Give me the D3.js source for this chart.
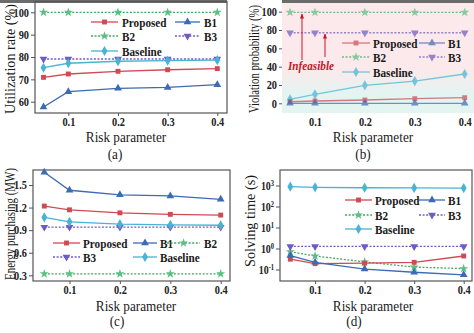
<!DOCTYPE html>
<html>
<head>
<meta charset="utf-8">
<script src="https://cdn.jsdelivr.net/npm/d3@7"></script>
<style>
  body { margin: 0; background: #fff; }
  svg { display: block; font-family: "Liberation Serif", "Times New Roman", serif; }
</style>
</head>
<body>
<div id="chart"></div>
<script>
const risk = [0.05, 0.1, 0.2, 0.3, 0.4];
const riskTicks = [0.1, 0.2, 0.3, 0.4];
const seriesNames = ["Proposed", "B1", "B2", "B3", "Baseline"];

// rows follow seriesNames
const utilizationRate = [
  [70.9, 72.4, 73.6, 74.3, 74.8],
  [57.6, 64.5, 66.0, 66.4, 67.6],
  [100, 100, 100, 100, 100],
  [79.1, 79.1, 79.1, 79.1, 79.1],
  [75.2, 77.2, 78.1, 78.4, 78.6]
];
const violationProb = [
  [1.7, 2.5, 3.6, 5.0, 6.1],
  [0, 0, 0, 0, 0],
  [99.3, 99.3, 99.3, 99.3, 99.3],
  [77, 77, 77, 77, 77],
  [4.4, 9.8, 19.6, 24.3, 32.0]
];
const energyPurchasing = [
  [1.22, 1.17, 1.13, 1.11, 1.10],
  [1.67, 1.43, 1.37, 1.355, 1.31],
  [0.32, 0.32, 0.32, 0.32, 0.32],
  [0.94, 0.94, 0.94, 0.94, 0.94],
  [1.07, 1.01, 0.98, 0.97, 0.965]
];
const solvingTime = [
  [0.31, 0.19, 0.20, 0.22, 0.44],
  [0.46, 0.22, 0.105, 0.074, 0.056],
  [0.70, 0.44, 0.23, 0.13, 0.11],
  [1.25, 1.25, 1.25, 1.25, 1.25],
  [880, 820, 780, 770, 750]
];

const utilTicks = [60, 70, 80, 90, 100];
const violTicks = [0, 20, 40, 60, 80, 100];
const energyTicks = [0.3, 0.6, 0.9, 1.2, 1.5];
const timeTicks = [0.1, 1, 10, 100, 1000];

const colours = {
  Proposed: "#cf4a52",
  B1: "#3c6bb4",
  B2: "#3ea862",
  B3: "#6f5bc2",
  Baseline: "#47b4d4"
};
const markerFill = { B2: "#5cbf82" };
const dashes = { B2: "2,1.6", B3: "2,1.6" };
const symbols = {
  Proposed: { type: d3.symbolSquare, size: 24, rot: 0 },
  B1: { type: d3.symbolTriangle, size: 26, rot: 0 },
  B2: { type: d3.symbolStar, size: 26, rot: 0 },
  B3: { type: d3.symbolTriangle, size: 26, rot: 180 },
  Baseline: { type: d3.symbolDiamond, size: 30, rot: 0 }
};

const svg = d3.select("#chart").append("svg")
  .attr("width", 474)
  .attr("height", 333);

const defs = svg.append("defs");
const grad = defs.append("linearGradient")
  .attr("id", "bgB").attr("x1", 0).attr("y1", 0).attr("x2", 0).attr("y2", 1);
grad.append("stop").attr("offset", 0).attr("stop-color", "#fbe9eb");
grad.append("stop").attr("offset", 0.62).attr("stop-color", "#fbe9eb");
grad.append("stop").attr("offset", 0.82).attr("stop-color", "#e4f4f1");
grad.append("stop").attr("offset", 1).attr("stop-color", "#e4f4f1");
defs.append("marker")
  .attr("id", "arrowRed")
  .attr("viewBox", "0 0 10 10")
  .attr("refX", 9).attr("refY", 5)
  .attr("markerWidth", 5).attr("markerHeight", 5)
  .attr("orient", "auto")
  .append("path").attr("d", "M0,1 L10,5 L0,9 z").attr("fill", "#c8142a");

function squeeze(sel, k) {
  sel.each(function () {
    const len = this.getComputedTextLength();
    d3.select(this).attr("textLength", len * k).attr("lengthAdjust", "spacingAndGlyphs");
  });
}

function marker(g, name, cx, cy, opacity) {
  const s = symbols[name];
  g.append("path")
    .attr("d", d3.symbol().type(s.type).size(s.size)())
    .attr("transform", `translate(${cx},${cy}) rotate(${s.rot})`)
    .attr("fill", markerFill[name] || colours[name])
    .attr("opacity", opacity);
}

const panels = [
  {
    data: utilizationRate, frame: [35, 1.5, 227, 113], xr: [43.5, 217.3],
    log: false, yDomain: [60, 100], yRange: [101.7, 12.3], yTicks: utilTicks, yFmt: d3.format("d"),
    yLabel: "Utilization rate (%)", yLabelX: 10, yLabelY: 59, yLabelLen: 110,
    xLabelX: 126, xLabelY: 142, tag: "(a)", tagX: 115, tagY: 158.5,
    legend: [[91, 118, 122, 22], [175, 200, 204, 22], [91, 118, 122, 36], [175, 200, 204, 36], [91, 118, 122, 51]],
    opacity: 1, boxed: true, tickFont: 12
  },
  {
    data: violationProb, frame: [282, 0, 474, 113], xr: [290, 464.7],
    log: false, yDomain: [0, 100], yRange: [103.3, 11.7], yTicks: violTicks, yFmt: d3.format("d"),
    yLabel: "Violation probability (%)", yLabelX: 254, yLabelY: 59, yLabelLen: 108,
    xLabelX: 373, xLabelY: 142, tag: "(b)", tagX: 363, tagY: 158.5,
    legend: [[342, 370, 373, 43], [419, 445, 448, 43], [342, 370, 373, 57], [419, 445, 448, 57], [342, 370, 373, 72]],
    opacity: 0.72, boxed: false, tickFont: 12
  },
  {
    data: energyPurchasing, frame: [33, 170, 230, 281], xr: [44.3, 220.7],
    log: false, yDomain: [0.3, 1.5], yRange: [275.3, 185], yTicks: energyTicks, yFmt: d3.format(".1f"),
    yLabel: "Energy purchasing (MW)", yLabelX: 9.5, yLabelY: 224, yLabelLen: 112,
    xLabelX: 136, xLabelY: 310.5, tag: "(c)", tagX: 117, tagY: 326,
    legend: [[53, 80, 83, 243], [133, 157, 160, 243], [167, 200, 204, 243], [53, 80, 83, 257], [133, 157, 160, 257]],
    opacity: 1, boxed: true, tickFont: 12
  },
  {
    data: solvingTime, frame: [280, 170, 472, 281], xr: [290.3, 463.7],
    log: true, yDomain: [0.1, 1000], yRange: [269.5, 185.5], yTicks: timeTicks, yFmt: null,
    yLabel: "Solving time (s)", yLabelX: 250, yLabelY: 221, yLabelLen: 92,
    xLabelX: 373, xLabelY: 310.5, tag: "(d)", tagX: 354, tagY: 326,
    legend: [[345, 372, 375, 200], [419, 445, 448, 200], [345, 372, 375, 215], [419, 445, 448, 215], [345, 372, 375, 229]],
    opacity: 1, boxed: true, tickFont: 11.5
  }
];

function drawPanel(p) {
  const [fx0, fy0, fx1, fy1] = p.frame;
  const g = svg.append("g");
  const x = d3.scaleLinear().domain([risk[0], risk[risk.length - 1]]).range(p.xr);
  const y = (p.log ? d3.scaleLog() : d3.scaleLinear()).domain(p.yDomain).range(p.yRange);

  if (!p.boxed) {
    g.append("rect")
      .attr("x", fx0).attr("y", fy0).attr("width", fx1 - fx0).attr("height", fy1 - fy0)
      .attr("fill", "url(#bgB)");
  }
  // thick top edge cut by the crop
  if (fy0 < 5) {
    g.append("rect").attr("x", p.boxed ? 0 : fx0).attr("y", 0)
      .attr("width", fx1 - (p.boxed ? 0 : fx0)).attr("height", 3).attr("fill", "#6b6b6b");
  }

  // y axis
  const yAxis = d3.axisLeft(y).tickValues(p.yTicks).tickSize(p.boxed ? 4 : 3).tickPadding(2);
  if (p.yFmt) yAxis.tickFormat(p.yFmt);
  else yAxis.tickFormat(() => "");
  const ya = g.append("g")
    .attr("transform", `translate(${fx0},0)`)
    .call(yAxis);
  ya.select(".domain").remove();
  ya.selectAll("line").attr("stroke", "#555");
  ya.selectAll("text")
    .attr("font-family", "Liberation Serif").attr("font-size", p.tickFont)
    .attr("font-weight", "bold").attr("fill", "#222");
  if (p.log) {
    ya.selectAll(".tick text").each(function (d) {
      const t = d3.select(this);
      t.text("10");
      t.append("tspan").attr("dy", "-0.55em").attr("font-size", 7.5)
        .text(Math.round(Math.log10(d)));
    });
  }
  squeeze(ya.selectAll(".tick text"), 0.86);

  // x axis
  const xa = g.append("g")
    .attr("transform", `translate(0,${fy1})`)
    .call(d3.axisBottom(x).tickValues(riskTicks).tickSize(p.boxed ? 3 : 0)
      .tickPadding(p.boxed ? 1 : 4).tickFormat(d3.format(".1f")));
  xa.select(".domain").remove();
  xa.selectAll("line").attr("stroke", "#555");
  xa.selectAll("text")
    .attr("font-family", "Liberation Serif").attr("font-size", 12)
    .attr("font-weight", "bold").attr("fill", "#222");
  squeeze(xa.selectAll("text"), 0.86);

  if (p.boxed) {
    g.append("rect")
      .attr("x", fx0).attr("y", fy0).attr("width", fx1 - fx0).attr("height", fy1 - fy0)
      .attr("fill", "none").attr("stroke", "#555").attr("stroke-width", 1.2);
  }

  // series
  const line = d3.line().x((d, i) => x(risk[i])).y(d => y(d));
  const drawOrder = [2, 3, 4, 0, 1];
  drawOrder.forEach(i => {
    const name = seriesNames[i];
    const sg = g.append("g").attr("opacity", p.opacity);
    sg.append("path")
      .attr("d", line(p.data[i]))
      .attr("fill", "none")
      .attr("stroke", colours[name])
      .attr("stroke-width", 1.3)
      .attr("stroke-dasharray", dashes[name] || null);
    p.data[i].forEach((v, j) => marker(sg, name, x(risk[j]), y(v), 1));
  });

  // legend
  seriesNames.forEach((name, i) => {
    const [lx0, lx1, tx, ly] = p.legend[i];
    const lg = g.append("g").attr("opacity", p.opacity);
    lg.append("line")
      .attr("x1", lx0).attr("x2", lx1).attr("y1", ly).attr("y2", ly)
      .attr("stroke", colours[name]).attr("stroke-width", 1.3)
      .attr("stroke-dasharray", dashes[name] || null);
    marker(lg, name, (lx0 + lx1) / 2, ly, 1);
    const t = g.append("text")
      .attr("x", tx).attr("y", ly + 4.5)
      .attr("font-size", 13).attr("font-weight", "bold").attr("fill", "#1a1a1a")
      .text(name);
    squeeze(t, 0.86);
  });

  // axis titles
  g.append("text")
    .attr("transform", `translate(${p.yLabelX},${p.yLabelY}) rotate(-90)`)
    .attr("text-anchor", "middle").attr("dominant-baseline", "central")
    .attr("font-size", 15).attr("fill", "#1a1a1a")
    .attr("textLength", p.yLabelLen).attr("lengthAdjust", "spacingAndGlyphs")
    .text(p.yLabel);
  const xl = g.append("text")
    .attr("x", p.xLabelX).attr("y", p.xLabelY)
    .attr("text-anchor", "middle").attr("font-size", 15).attr("fill", "#1a1a1a")
    .text("Risk parameter");
  squeeze(xl, 0.88);
  const tg = g.append("text")
    .attr("x", p.tagX).attr("y", p.tagY)
    .attr("text-anchor", "middle").attr("font-size", 15).attr("fill", "#1a1a1a")
    .text(p.tag);
  squeeze(tg, 0.88);
}

panels.forEach(drawPanel);

// annotation in panel (b)
const ann = svg.append("g");
[[302, 60, 14], [325, 57, 34]].forEach(([ax, ay0, ay1]) => {
  ann.append("line")
    .attr("x1", ax).attr("x2", ax).attr("y1", ay0).attr("y2", ay1)
    .attr("stroke", "#c8142a").attr("stroke-width", 1)
    .attr("marker-end", "url(#arrowRed)");
});
const inf = ann.append("text")
  .attr("x", 311).attr("y", 69.5)
  .attr("text-anchor", "middle")
  .attr("font-size", 13).attr("font-weight", "bold").attr("font-style", "italic")
  .attr("fill", "#c8142a")
  .text("Infeasible");
squeeze(inf, 0.86);
</script>
</body>
</html>
